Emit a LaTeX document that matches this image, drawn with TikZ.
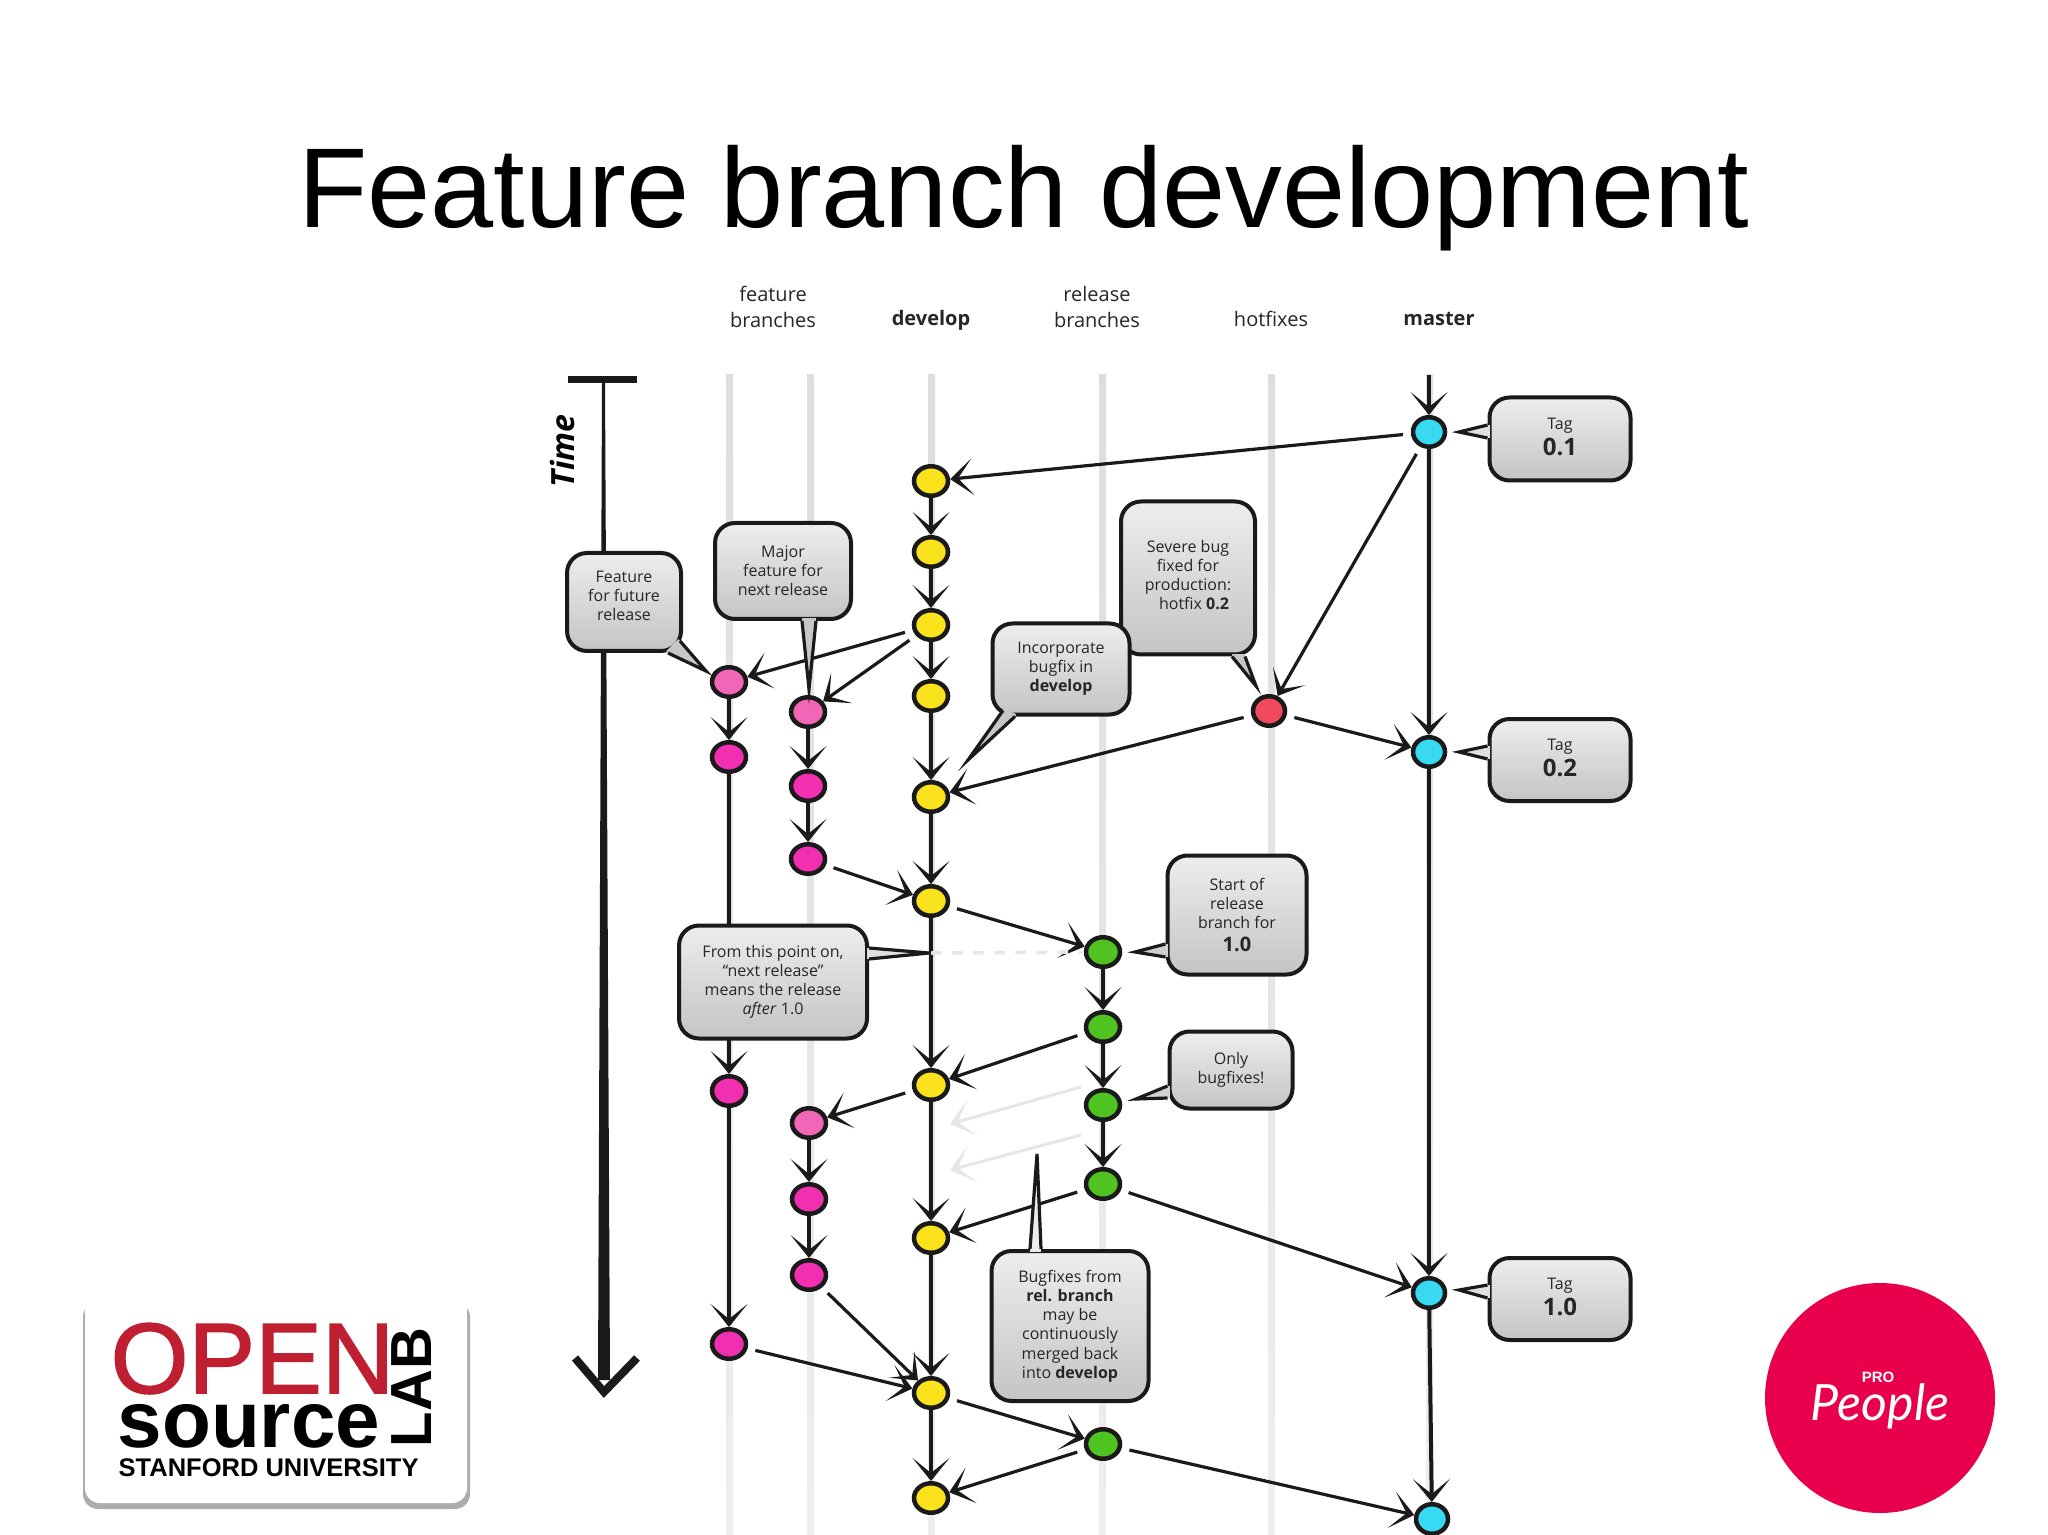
\documentclass[tikz,border=0pt]{standalone}
\usepackage{fontspec}
\setmainfont{Liberation Sans}
\newfontfamily\gitfont{Open Sans}
\newfontfamily\peoplefont{Lato}
\newfontfamily\openfont[FakeBold=1.6]{Liberation Sans}
\usetikzlibrary{arrows.meta,shapes.geometric}

\definecolor{inkblack}{HTML}{1A1A1A}
\definecolor{lanegrey}{HTML}{CFCFCF}
\definecolor{ghostgrey}{HTML}{E6E6E6}
\definecolor{devyellow}{HTML}{FAE31C}
\definecolor{featpink}{HTML}{F22FB0}
\definecolor{startpink}{HTML}{F266B8}
\definecolor{relgreen}{HTML}{4FC31F}
\definecolor{mastblue}{HTML}{38D9F2}
\definecolor{hotred}{HTML}{F04A5C}
\definecolor{labred}{HTML}{C01F32}
\definecolor{peoplered}{HTML}{E8004C}

% one tip of a bubble: base, point, base, grey at that height
\newcommand{\bubbletip}[4]{
  \fill[#4] #1 -- #2 -- #3 -- cycle;
  \draw[#4, line width=.5mm] #1 -- #3;
  \draw[draw=inkblack, line width=.32mm, line join=miter] #1 -- #2 -- #3;
}

\begin{document}
\begin{tikzpicture}[
  x=0.1mm, y=-0.1mm,
  lane/.style = {top color=lanegrey!70, middle color=lanegrey, bottom color=lanegrey!35},
  commit/.style = {ellipse, draw=inkblack, line width=.45mm, minimum width=3.4mm, minimum height=2.95mm, inner sep=0pt},
  develop/.style = {commit, fill=devyellow},
  feature/.style = {commit, fill=featpink},
  release/.style = {commit, fill=relgreen},
  master/.style = {commit, fill=mastblue, minimum width=3.2mm},
  flow/.style = {-{Stealth[length=2.3mm, width=3.7mm, inset=1.5mm]}, line width=.4mm, draw=inkblack},
  merge/.style = {flow, shorten <=.8mm, line width=.32mm},
  ghost/.style = {-{Stealth[length=2.3mm, width=3.7mm, inset=1.5mm]}, line width=.3mm, draw=ghostgrey},
  bubble/.style = {draw=inkblack, line width=.4mm, rounded corners=2mm, top color=black!7, bottom color=black!23,
    align=center, inner sep=0pt, text=black!85, font=\gitfont\fontsize{1.6mm}{1.92mm}\selectfont},
  lanehead/.style = {align=center, inner sep=0pt, text=black!85, font=\gitfont\fontsize{2mm}{2.6mm}\selectfont}
]
  \useasboundingbox (0,0) rectangle (2048,1535);

  \node (title) at (1024,198) {\fontsize{11.35mm}{13mm}\selectfont Feature branch development};

  \node[lanehead] (headfeat) at (773,307) {feature\\branches};
  \node[lanehead] (headdev) at (931,320) {\bfseries develop};
  \node[lanehead] (headrel) at (1097,307) {release\\branches};
  \node[lanehead] (headhot) at (1271,319) {hotfixes};
  \node[lanehead] (headmast) at (1439,319) {\bfseries master};

  % grey lanes
  \shade[lane] (726,375) rectangle (733,1535);
  \shade[lane] (807,375) rectangle (814,1535);
  \shade[lane] (928,375) rectangle (935,1535);
  \shade[lane] (1099,375) rectangle (1106,1535);
  \shade[lane] (1268,375) rectangle (1275,1535);
  \shade[lane] (1426,375) rectangle (1433,1535);

  % time axis
  \coordinate (timetop) at (603,380);
  \coordinate (timeend) at (604,1392);
  \draw[line width=.7mm, inkblack] (568,380) -- (637,380);
  \fill[inkblack] (602,382) -- (605,382) -- (610,1380) -- (598,1380) -- cycle;
  \draw[inkblack, line width=.8mm] (575,1358) -- (timeend) -- (637,1358);
  \node[rotate=90, inner sep=0pt, font=\gitfont\bfseries\itshape\fontsize{3.2mm}{3.2mm}\selectfont] (timelabel) at (562,451) {Time};

  % commits
  \node[develop] (d1) at (931,481) {};
  \node[develop] (d2) at (931,552) {};
  \node[develop] (d3) at (931,625) {};
  \node[develop] (d4) at (931,696) {};
  \node[develop] (d5) at (931,797) {};
  \node[develop] (d6) at (931,901) {};
  \node[develop] (d7) at (931,1085) {};
  \node[develop] (d8) at (931,1238) {};
  \node[develop] (d9) at (931,1393) {};
  \node[develop] (d10) at (931,1498) {};

  \node[feature, fill=startpink] (fa1) at (729,682) {};
  \node[feature] (fa2) at (729,757) {};
  \node[feature] (fa3) at (729,1091) {};
  \node[feature] (fa4) at (729,1344) {};

  \node[feature, fill=startpink] (fb1) at (808,712) {};
  \node[feature] (fb2) at (808,786) {};
  \node[feature] (fb3) at (808,859) {};
  \node[feature, fill=startpink] (fb4) at (809,1123) {};
  \node[feature] (fb5) at (809,1199) {};
  \node[feature] (fb6) at (809,1275) {};

  \node[release] (r1) at (1103,952) {};
  \node[release] (r2) at (1103,1027) {};
  \node[release] (r3) at (1103,1105) {};
  \node[release] (r4) at (1103,1184) {};
  \node[release] (r5) at (1103,1444) {};

  \node[commit, fill=hotred, minimum width=3.2mm] (hot) at (1269,711) {};

  \coordinate (mtop) at (1429,375);
  \node[master] (m1) at (1429,432) {};
  \node[master] (m2) at (1429,752) {};
  \node[master] (m3) at (1429,1293) {};
  \node[master] (m4) at (1432,1519) {};

  % history
  \draw[flow] (d1) -- (d2);
  \draw[flow] (d2) -- (d3);
  \draw[flow] (d3) -- (d4);
  \draw[flow] (d4) -- (d5);
  \draw[flow] (d5) -- (d6);
  \draw[flow] (d6) -- (d7);
  \draw[flow] (d7) -- (d8);
  \draw[flow] (d8) -- (d9);
  \draw[flow] (d9) -- (d10);

  \draw[flow] (fa1) -- (fa2);
  \draw[flow] (fa2) -- (fa3);
  \draw[flow] (fa3) -- (fa4);
  \draw[flow] (fb1) -- (fb2);
  \draw[flow] (fb2) -- (fb3);
  \draw[flow] (fb4) -- (fb5);
  \draw[flow] (fb5) -- (fb6);

  \draw[flow] (r1) -- (r2);
  \draw[flow] (r2) -- (r3);
  \draw[flow] (r3) -- (r4);

  \draw[flow] (mtop) -- (m1);
  \draw[flow] (m1) -- (m2);
  \draw[flow] (m2) -- (m3);
  \draw[flow] (m3) -- (m4);

  % branches and merges
  \draw[merge] (m1) -- (d1);
  \draw[merge] (m1) -- (hot);
  \draw[merge] (hot) -- (m2);
  \draw[merge] (hot) -- (d5);
  \draw[merge] (d3) -- (fa1);
  \draw[merge] (d3) -- (fb1);
  \draw[merge] (fb3) -- (d6);
  \draw[merge] (d6) -- (r1);
  \draw[merge] (r2) -- (d7);
  \draw[merge] (d7) -- (fb4);
  \draw[merge] (r4) -- (d8);
  \draw[merge] (r4) -- (m3);
  \draw[merge] (fb6) -- (d9);
  \draw[merge] (fa4) -- (d9);
  \draw[merge] (d9) -- (r5);
  \draw[merge] (r5) -- (d10);
  \draw[merge] (r5) -- (m4);

  % pale ones
  \coordinate (cut) at (931,953);
  \coordinate (ghostafrom) at (1081,1087);
  \coordinate (ghostato) at (950,1124);
  \coordinate (ghostbfrom) at (1081,1135);
  \coordinate (ghostbto) at (950,1170);
  \draw[ghost] (ghostafrom) -- (ghostato);
  \draw[ghost] (ghostbfrom) -- (ghostbto);
  \draw[ghostgrey, line width=.35mm, dashed] (cut) -- (r1);

  % bubbles
  \node[bubble, minimum width=14.1mm, minimum height=8.3mm] (tagone) at (1560,439) {Tag\\[.1mm]{\bfseries\fontsize{2.4mm}{2.4mm}\selectfont 0.1}\rule[-.4mm]{0pt}{0pt}};
  \bubbletip{([yshift=1.4mm]tagone.west)}{(1459,432)}{([yshift=.1mm]tagone.west)}{black!12}

  \node[bubble, minimum width=14.1mm, minimum height=8.2mm] (tagtwo) at (1560,760) {Tag\\[.1mm]{\bfseries\fontsize{2.4mm}{2.4mm}\selectfont 0.2}\rule[-.4mm]{0pt}{0pt}};
  \bubbletip{([yshift=1.4mm]tagtwo.west)}{(1459,752)}{([yshift=.1mm]tagtwo.west)}{black!12}

  \node[bubble, minimum width=14.1mm, minimum height=8.2mm] (tagthree) at (1560,1299) {Tag\\[.1mm]{\bfseries\fontsize{2.4mm}{2.4mm}\selectfont 1.0}\rule[-.4mm]{0pt}{0pt}};
  \bubbletip{([yshift=1.4mm]tagthree.west)}{(1459,1290)}{([yshift=.1mm]tagthree.west)}{black!12}

  \node[bubble, minimum width=13.4mm, minimum height=15.3mm] (severe) at (1188,578) {Severe bug\\fixed for\\production:\\\hspace{1.2mm}hotfix \textbf{0.2}\rule[-.6mm]{0pt}{0pt}};
  \bubbletip{([xshift=4.4mm]severe.south)}{(1256,686)}{([xshift=5.7mm]severe.south)}{black!22}

  \node[bubble, minimum width=13.7mm, minimum height=9.1mm] (incorp) at (1061,669) {Incorporate\\bugfix in\\\textbf{develop}};
  \bubbletip{([xshift=-5.8mm,yshift=.6mm]incorp.south)}{(968,760)}{([xshift=-4.6mm]incorp.south)}{black!22}

  \node[bubble, minimum width=13.9mm, minimum height=11.9mm] (startrel) at (1237,915) {Start of\\release\\branch for\\[.4mm]{\bfseries\fontsize{2mm}{2mm}\selectfont 1.0}};
  \bubbletip{([yshift=-2.9mm]startrel.west)}{(1135,952)}{([yshift=-4.2mm]startrel.west)}{black!19}

  \node[bubble, minimum width=12.3mm, minimum height=7.7mm] (only) at (1231,1070) {Only\\bugfixes!};
  \bubbletip{([yshift=-1.6mm]only.west)}{(1136,1099)}{([yshift=-2.8mm]only.west)}{black!18}

  \node[bubble, minimum width=15.7mm, minimum height=15mm] (bugfix) at (1070,1326) {Bugfixes from\\\textbf{rel. branch}\\may be\\continuously\\merged back\\into \textbf{develop}};
  \bubbletip{([xshift=-4mm]bugfix.north)}{(1037,1154)}{([xshift=-2.9mm]bugfix.north)}{black!8}

  \node[bubble, minimum width=18.8mm, minimum height=11.3mm] (thispoint) at (773,982) {From this point on,\\“next release”\\means the release\\\textit{after} 1.0};
  \bubbletip{([yshift=3.4mm]thispoint.east)}{(929,953)}{([yshift=2.3mm]thispoint.east)}{black!12}

  \node[bubble, minimum width=11.4mm, minimum height=9.8mm] (future) at (624,602) {Feature\\for future\\release\rule[-1.2mm]{0pt}{0pt}};
  \bubbletip{([xshift=5.6mm,yshift=1.2mm]future.south)}{(706,671)}{([xshift=4.4mm]future.south)}{black!22}

  \node[bubble, minimum width=13.6mm, minimum height=9.6mm] (majorfeat) at (783,571) {Major\\feature for\\next release};
  \bubbletip{([xshift=1.9mm]majorfeat.south)}{(809,689)}{([xshift=3.3mm]majorfeat.south)}{black!22}

  % logos
  \fill[black!32, rounded corners=1.5mm] (83,1302) rectangle (470,1509);
  \fill[white, rounded corners=1.5mm] (85,1290) rectangle (467,1503);
  \node[inner sep=0pt, text=labred, anchor=base west, font=\openfont\fontsize{10mm}{10mm}\selectfont] (labopen) at (110,1393) {OPEN};
  \node[inner sep=0pt, anchor=base west, font=\bfseries\fontsize{8mm}{8mm}\selectfont] (labsource) at (117,1447) {source};
  \node[inner sep=0pt, rotate=90, anchor=base west, font=\bfseries\fontsize{5.8mm}{5.8mm}\selectfont] (lablab) at (431,1448) {LAB};
  \node[inner sep=0pt, anchor=base west, font=\bfseries\fontsize{2.55mm}{2.55mm}\selectfont] (labstanford) at (118,1476) {STANFORD UNIVERSITY};

  \node[circle, fill=peoplered, minimum size=23mm, inner sep=0pt] (peoplelogo) at (1880,1398) {};
  \node[inner sep=0pt, text=white, font=\bfseries\fontsize{1.5mm}{1.5mm}\selectfont] (peoplepro) at (1878,1377) {PRO};
  \node[inner sep=0pt, text=white, font=\peoplefont\itshape\fontsize{5mm}{5mm}\selectfont] (peoplename) at (1880,1406) {People};
\end{tikzpicture}
\end{document}
